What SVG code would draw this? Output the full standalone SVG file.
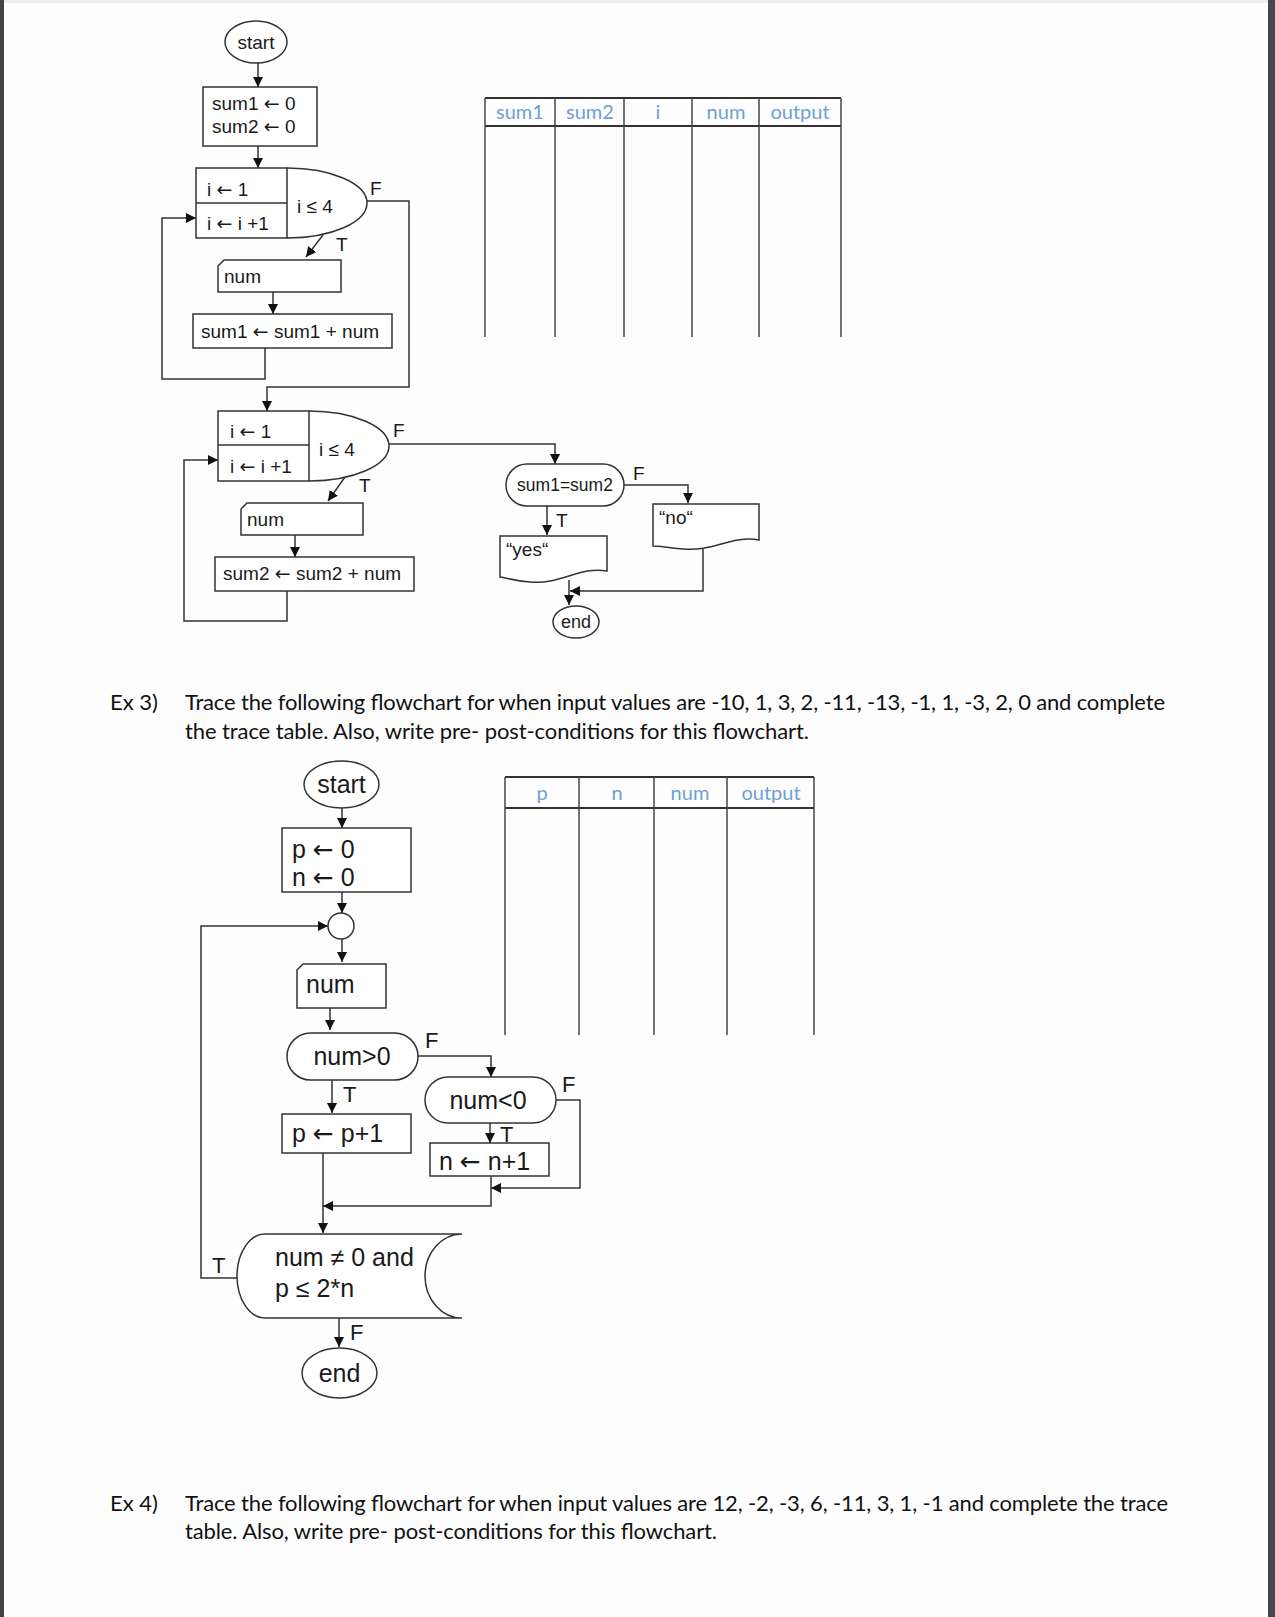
<svg xmlns="http://www.w3.org/2000/svg" width="1275" height="1617" viewBox="0 0 1275 1617">
<defs>
<marker id="ah" viewBox="0 0 10 10" refX="10" refY="5" markerWidth="10" markerHeight="10" markerUnits="userSpaceOnUse" orient="auto">
<path d="M0,0 L10,5 L0,10 Z" fill="#111"/>
</marker>
<style>
.s{fill:none;stroke:#333;stroke-width:1.5}
.n{fill:#fff;stroke:#333;stroke-width:1.5}
.c{fill:none;stroke:#333;stroke-width:1.5;marker-end:url(#ah)}
.t1{font-family:"Liberation Sans",Arial,sans-serif;font-size:19px;fill:#1a1a1a}
.t2{font-family:"Liberation Sans",Arial,sans-serif;font-size:25px;fill:#1a1a1a}
.ar{font-family:"DejaVu Sans",sans-serif;font-weight:normal}
.th{font-family:Lato,"Open Sans",sans-serif;font-size:20px;fill:#6d9fd8;text-anchor:middle}
.tx{font-family:Lato,"Open Sans",sans-serif;font-size:22px;fill:#111}
.tl{stroke:#444;stroke-width:1.5;fill:none}
.tb{stroke:#333;stroke-width:2.2;fill:none}
</style>
</defs>
<rect width="1275" height="1617" fill="#fdfdfd"/>
<rect x="0" y="0" width="1275" height="3" fill="#eeeeee"/>
<rect x="0" y="0" width="4" height="1617" fill="#444"/>
<rect x="1268" y="0" width="7" height="1617" fill="#48484c"/>

<!-- connectors -->
<g id="connectors">
<path class="c" d="M258,63 V87"/>
<path class="c" d="M258,146 V168"/>
<path class="c" d="M323,235 L306,257"/>
<path class="c" d="M273,292 V314"/>
<path class="c" d="M265,348 V379 H162 V218 H196"/>
<path class="c" d="M367,201 H409 V387 H267 V411"/>
<path class="c" d="M345,477 L328,501"/>
<path class="c" d="M295,535 V557"/>
<path class="c" d="M287,591 V621 H184 V460 H218"/>
<path class="c" d="M389,444 H555 V464"/>
<path class="c" d="M624,485 H688 V503"/>
<path class="c" d="M547,506 V535"/>
<path class="c" d="M569,580 V605"/>
<path class="c" d="M703,547 V591 H570"/>

<path class="c" d="M342,808 V828"/>
<path class="c" d="M342,892 V913"/>
<path class="c" d="M342,939 V962"/>
<path class="c" d="M330,1008 V1030"/>
<path class="c" d="M418,1056 H491 V1077"/>
<path class="c" d="M332,1080 V1113"/>
<path class="c" d="M490,1123 V1143"/>
<path class="c" d="M556,1100 H580 V1188 H491"/>
<path class="c" d="M491,1176 V1206 H323"/>
<path class="c" d="M323,1153 V1233"/>
<path class="c" d="M237,1278 H201 V926 H328"/>
<path class="c" d="M339,1318 V1347"/>
</g>

<!-- Flowchart 1 -->
<g id="start1"><ellipse class="n" cx="256" cy="42" rx="31" ry="21"/><text class="t1" x="256" y="49" text-anchor="middle">start</text></g>
<g id="init1"><rect class="n" x="203" y="87" width="114" height="59"/><text class="t1" x="212" y="110">sum1 <tspan class="ar">←</tspan> 0</text><text class="t1" x="212" y="133">sum2 <tspan class="ar">←</tspan> 0</text></g>
<g id="loop1">
<path class="n" d="M287,168 A80,35 0 0 1 287,238"/>
<rect class="n" x="196" y="168" width="91" height="70"/>
<line class="s" x1="196" y1="203" x2="287" y2="203"/>
<text class="t1" x="207" y="196">i <tspan class="ar">←</tspan> 1</text>
<text class="t1" x="207" y="230">i <tspan class="ar">←</tspan> i +1</text>
<text class="t1" x="297" y="213">i ≤ 4</text>
<text class="t1" x="370" y="195">F</text>
<text class="t1" x="336" y="251">T</text>
</g>
<g id="read1"><path class="n" d="M224,260 H341 V292 H218 V266 Z"/><text class="t1" x="224" y="283">num</text></g>
<g id="add1"><rect class="n" x="193" y="314" width="199" height="34"/><text class="t1" x="201" y="338">sum1 <tspan class="ar">←</tspan> sum1 + num</text></g>

<g id="loop2">
<path class="n" d="M309,411 A80,35 0 0 1 309,481"/>
<rect class="n" x="218" y="411" width="91" height="70"/>
<line class="s" x1="218" y1="445" x2="309" y2="445"/>
<text class="t1" x="230" y="438">i <tspan class="ar">←</tspan> 1</text>
<text class="t1" x="230" y="473">i <tspan class="ar">←</tspan> i +1</text>
<text class="t1" x="319" y="456">i ≤ 4</text>
<text class="t1" x="393" y="437">F</text>
<text class="t1" x="359" y="492">T</text>
</g>
<g id="read2"><path class="n" d="M247,503 H363 V535 H241 V509 Z"/><text class="t1" x="247" y="526">num</text></g>
<g id="add2"><rect class="n" x="215" y="557" width="199" height="34"/><text class="t1" x="223" y="580">sum2 <tspan class="ar">←</tspan> sum2 + num</text></g>

<g id="cmp"><rect class="n" x="506" y="464" width="118" height="42" rx="21" ry="21"/><text class="t1" x="565" y="491" text-anchor="middle" style="font-size:17.5px">sum1=sum2</text>
<text class="t1" x="633" y="480">F</text><text class="t1" x="556" y="527">T</text></g>
<g id="yes"><path class="n" d="M500,536 H607 V571 C580,566 560,585 530,582 C515,581 507,578 500,577 Z"/><text class="t1" x="506" y="556">“yes“</text></g>
<g id="no"><path class="n" d="M653,504 H759 V540 C732,535 713,552 683,549 C668,548 660,546 653,546 Z"/><text class="t1" x="659" y="524">“no“</text></g>
<g id="end1"><ellipse class="n" cx="576" cy="622" rx="23" ry="16"/><text class="t1" x="576" y="628" text-anchor="middle" style="font-size:18px">end</text></g>

<!-- Table 1 -->
<g id="table1">
<line class="tb" x1="485" y1="98" x2="841" y2="98"/>
<line class="tb" x1="485" y1="126" x2="841" y2="126"/>
<line class="tl" x1="485" y1="98" x2="485" y2="337"/>
<line class="tl" x1="555" y1="98" x2="555" y2="337"/>
<line class="tl" x1="624" y1="98" x2="624" y2="337"/>
<line class="tl" x1="692" y1="98" x2="692" y2="337"/>
<line class="tl" x1="759" y1="98" x2="759" y2="337"/>
<line class="tl" x1="841" y1="98" x2="841" y2="337"/>
<text class="th" x="520" y="119">sum1</text>
<text class="th" x="590" y="119">sum2</text>
<text class="th" x="658" y="119">i</text>
<text class="th" x="726" y="119">num</text>
<text class="th" x="800" y="119">output</text>
</g>

<!-- Ex 3 text -->
<g id="ex3">
<text class="tx" x="110" y="710">Ex 3)</text>
<text class="tx" x="185" y="710" textLength="980">Trace the following flowchart for when input values are -10, 1, 3, 2, -11, -13, -1, 1, -3, 2, 0 and complete</text>
<text class="tx" x="185" y="739" textLength="624">the trace table. Also, write pre- post-conditions for this flowchart.</text>
</g>

<!-- Flowchart 2 -->
<g id="start2"><ellipse class="n" cx="341.5" cy="784.5" rx="37.5" ry="23.5"/><text class="t2" x="341.5" y="793" text-anchor="middle">start</text></g>
<g id="init2"><rect class="n" x="282" y="828" width="129" height="64"/><text class="t2" x="292" y="858">p <tspan class="ar">←</tspan> 0</text><text class="t2" x="292" y="886">n <tspan class="ar">←</tspan> 0</text></g>
<g id="join"><circle class="n" cx="341" cy="926" r="13"/></g>
<g id="read3"><path class="n" d="M303,964 H386 V1008 H297 V970 Z"/><text class="t2" x="306" y="993">num</text></g>
<g id="pos"><rect class="n" x="287" y="1033" width="131" height="47" rx="23.5" ry="23.5"/><text class="t2" x="352" y="1065" text-anchor="middle">num&gt;0</text>
<text class="t2" x="425" y="1048" style="font-size:22px">F</text><text class="t2" x="343" y="1102" style="font-size:22px">T</text></g>
<g id="incp"><rect class="n" x="282" y="1114" width="129" height="39"/><text class="t2" x="292" y="1142">p <tspan class="ar">←</tspan> p+1</text></g>
<g id="neg"><rect class="n" x="425" y="1077" width="131" height="46" rx="23" ry="23"/><text class="t2" x="488" y="1109" text-anchor="middle">num&lt;0</text>
<text class="t2" x="562" y="1092" style="font-size:22px">F</text><text class="t2" x="500" y="1142" style="font-size:22px">T</text></g>
<g id="incn"><rect class="n" x="430" y="1143" width="119" height="33"/><text class="t2" x="439" y="1170">n <tspan class="ar">←</tspan> n+1</text></g>
<g id="cond"><path class="n" d="M265,1234 H462 A37,42 0 0 0 462,1318 H265 A28,42 0 0 1 265,1234 Z"/>
<text class="t2" x="275" y="1266">num ≠ 0 and</text><text class="t2" x="275" y="1297">p ≤ 2*n</text>
<text class="t2" x="212" y="1273" style="font-size:22px">T</text><text class="t2" x="350" y="1340" style="font-size:22px">F</text></g>
<g id="end2"><ellipse class="n" cx="339.5" cy="1373" rx="37.5" ry="25"/><text class="t2" x="339.5" y="1382" text-anchor="middle">end</text></g>

<!-- Table 2 -->
<g id="table2">
<line class="tb" x1="505" y1="777" x2="814" y2="777"/>
<line class="tb" x1="505" y1="808" x2="814" y2="808"/>
<line class="tl" x1="505" y1="777" x2="505" y2="1035"/>
<line class="tl" x1="579" y1="777" x2="579" y2="1035"/>
<line class="tl" x1="654" y1="777" x2="654" y2="1035"/>
<line class="tl" x1="727" y1="777" x2="727" y2="1035"/>
<line class="tl" x1="814" y1="777" x2="814" y2="1035"/>
<text class="th" x="542" y="800">p</text>
<text class="th" x="617" y="800">n</text>
<text class="th" x="690" y="800">num</text>
<text class="th" x="771" y="800">output</text>
</g>

<!-- Ex 4 text -->
<g id="ex4">
<text class="tx" x="110" y="1511">Ex 4)</text>
<text class="tx" x="185" y="1511" textLength="983">Trace the following flowchart for when input values are 12, -2, -3, 6, -11, 3, 1, -1 and complete the trace</text>
<text class="tx" x="185" y="1539" textLength="532">table. Also, write pre- post-conditions for this flowchart.</text>
</g>
</svg>
